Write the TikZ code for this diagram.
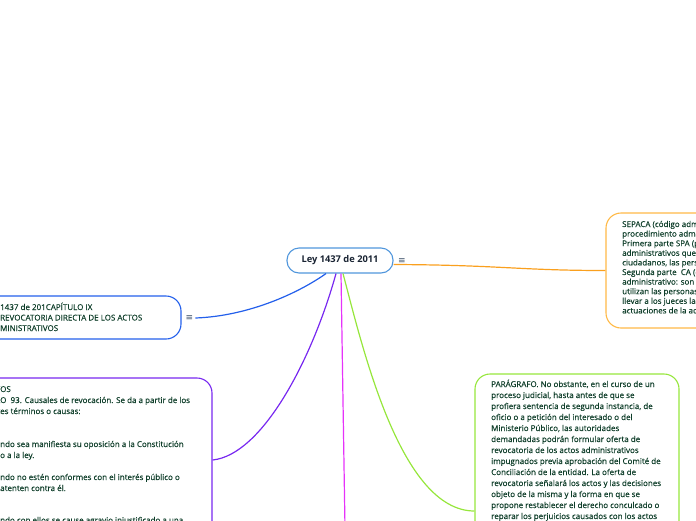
\documentclass[tikz,border=0pt]{standalone}
\usepackage{fontspec}
\setmainfont{Open Sans}
\newfontfamily\txtfont{Open Sans}[FakeBold=0.35]
\newfontfamily\iconfont{DejaVu Sans}
\definecolor{rootc}{RGB}{80,150,220}
\definecolor{bluec}{RGB}{35,95,235}
\definecolor{purpc}{RGB}{120,40,240}
\definecolor{magc}{RGB}{230,50,250}
\definecolor{greenc}{RGB}{150,230,60}
\definecolor{orangec}{RGB}{250,160,30}
\definecolor{oboxc}{RGB}{255,185,70}
\definecolor{txtc}{RGB}{15,62,42}
\definecolor{titc}{RGB}{25,35,50}
\definecolor{iconc}{RGB}{60,80,105}
\tikzset{
  tx/.style={anchor=base west, inner sep=0pt, text=txtc, font=\txtfont\fontsize{8}{9}\selectfont},
  boxst/.style={draw, line width=1.1pt, rounded corners=15pt, inner sep=0pt},
  conn/.style={line width=1.2pt},
  icon/.style={inner sep=0pt, text=iconc, font=\iconfont\fontsize{9}{10}\selectfont}
}
\begin{document}
\begin{tikzpicture}[x=1pt,y=-1pt]
\useasboundingbox (0,0) rectangle (696,520);
\clip (0,0) rectangle (696,520);

% central node
\node[draw=rootc, line width=1.1pt, rounded corners=12pt, minimum width=106pt, minimum height=25pt, inner sep=0pt,
      font=\bfseries\fontsize{9.3}{10}\selectfont, text=titc] (root) at (340,260.5) {Ley 1437 de 2011};
\node[icon] (ricon) at (402,261) {≡};

% boxes
\node[boxst, draw=oboxc, minimum width=194pt, minimum height=115pt] (obox) at (703,270.5) {};
\node[boxst, draw=bluec, minimum width=281pt, minimum height=43pt] (bbox) at (40.5,317.5) {};
\node[icon] (bicon) at (189.5,318) {≡};
\node[boxst, draw=purpc, minimum width=512pt, minimum height=164pt] (pbox) at (-44,460) {};
\node[boxst, draw=greenc, minimum width=204pt, minimum height=274pt] (gbox) at (577,511) {};
\coordinate (mend) at (345.5,560);

% connectors
\draw[conn, orangec] ([yshift=-4pt]root.east) .. controls (500,265) and (520,270.5) .. (obox.west);
\draw[conn, bluec] ([xshift=2pt]bicon.east) .. controls (250,316) and (300,292) .. ([xshift=-14pt]root.south);
\draw[conn, purpc] ([xshift=-4pt]root.south) .. controls (312,360) and (262,455) .. (pbox.east);
\draw[conn, magc] ([xshift=1pt]root.south) -- (mend);
\draw[conn, greenc] ([xshift=3pt]root.south) .. controls (362,345) and (400,511) .. (gbox.west);

% orange box text
\node[tx] (o1) at (622,227) {SEPACA (código administrativo y de};
\node[tx] (o2) at (622,236.6) {procedimiento administrativo y de lo};
\node[tx] (o3) at (622,246.2) {Primera parte SPA (procedimiento};
\node[tx] (o4) at (622,255.8) {administrativos que utilizan los};
\node[tx] (o5) at (622,265.4) {ciudadanos, las personas naturales};
\node[tx] (o6) at (622,275) {Segunda parte\ \ CA (contencioso};
\node[tx] (o7) at (622,284.6) {administrativo: son los medios que};
\node[tx] (o8) at (622,294.2) {utilizan las personas para};
\node[tx] (o9) at (622,303.8) {llevar a los jueces las};
\node[tx] (o10) at (622,313.4) {actuaciones de la administración};

% blue box text
\node[tx] (b1) at (0,310) {\llap{Ley }1437 de 201CAPÍTULO IX};
\node[tx] (b2) at (0,320.5) {\llap{LA }REVOCATORIA DIRECTA DE LOS ACTOS};
\node[tx] (b3) at (0,331) {\llap{AD}MINISTRATIVOS};

% purple box text
\node[tx] (p1) at (0,392) {\llap{ACT}OS};
\node[tx] (p2) at (0,403) {\llap{ARTÍCUL}O\ \ 93. Causales de revocación. Se da a partir de los};
\node[tx] (p3) at (0,414) {\llap{siguient}es términos o causas:};
\node[tx] (p4) at (0,447) {\llap{1. Cua}ndo sea manifiesta su oposición a la Constitución};
\node[tx] (p5) at (0,458) {\llap{Política }o a la ley.};
\node[tx] (p6) at (0,480) {\llap{2. Cua}ndo no estén conformes con el interés público o};
\node[tx] (p7) at (0,491) {\llap{social, o }atenten contra él.};
\node[tx] (p8) at (0,523) {\llap{3. Cua}ndo con ellos se cause agravio injustificado a una};

% green box text
\node[tx] (g1) at (491,387) {PARÁGRAFO. No obstante, en el curso de un};
\node[tx] (g2) at (491,398) {proceso judicial, hasta antes de que se};
\node[tx] (g3) at (491,409) {profiera sentencia de segunda instancia, de};
\node[tx] (g4) at (491,420) {oficio o a petición del interesado o del};
\node[tx] (g5) at (491,431) {Ministerio Público, las autoridades};
\node[tx] (g6) at (491,442) {demandadas podrán formular oferta de};
\node[tx] (g7) at (491,453) {revocatoria de los actos administrativos};
\node[tx] (g8) at (491,464) {impugnados previa aprobación del Comité de};
\node[tx] (g9) at (491,475) {Conciliación de la entidad. La oferta de};
\node[tx] (g10) at (491,486) {revocatoria señalará los actos y las decisiones};
\node[tx] (g11) at (491,497) {objeto de la misma y la forma en que se};
\node[tx] (g12) at (491,508) {propone restablecer el derecho conculcado o};
\node[tx] (g13) at (491,519) {reparar los perjuicios causados con los actos};
\end{tikzpicture}
\end{document}
